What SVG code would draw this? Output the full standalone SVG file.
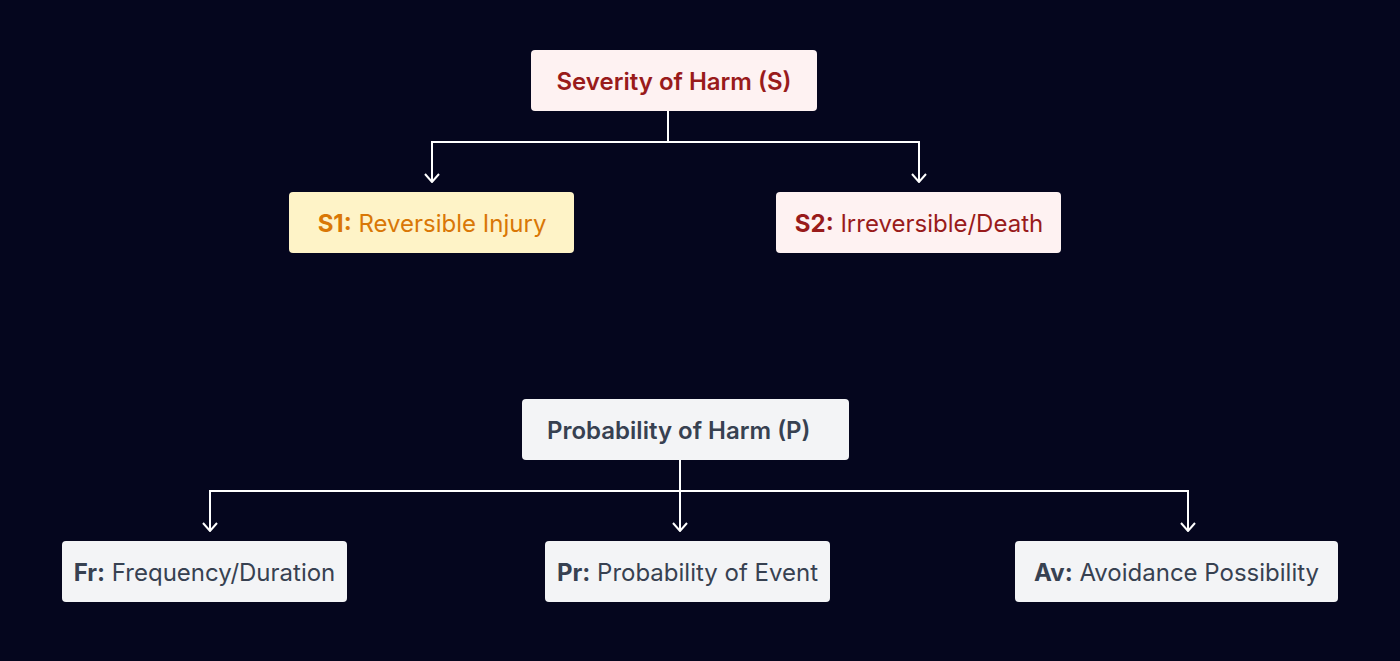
<svg xmlns="http://www.w3.org/2000/svg" width="1400" height="661" viewBox="0 0 1400 661">
<style>
.t{font-family:Inter,"Noto Sans","Liberation Sans",sans-serif;font-size:24px;dominant-baseline:central}
.b{font-weight:700}
.h{font-weight:600}
.red{fill:#991b1b}
.amb{fill:#d97706}
.gry{fill:#374151}
.conn{fill:none;stroke:#ffffff;stroke-width:2}
</style>
<defs>
<marker id="arr" viewBox="0 0 10 16" refX="9" refY="8" markerWidth="10" markerHeight="16" markerUnits="userSpaceOnUse" orient="auto">
<path d="M1,1 L9,8 L1,15" fill="none" stroke="#ffffff" stroke-width="2"/>
</marker>
</defs>
<rect width="1400" height="661" fill="#05061e"/>
<g id="connectors">
<path class="conn" d="M668,111 V142 H432 V182" marker-end="url(#arr)"/>
<path class="conn" d="M668,142 H919 V182" marker-end="url(#arr)"/>
<path class="conn" d="M680,460 V491 H210 V531" marker-end="url(#arr)"/>
<path class="conn" d="M680,491 V531" marker-end="url(#arr)"/>
<path class="conn" d="M680,491 H1188 V531" marker-end="url(#arr)"/>
</g>
<g id="severity">
<rect x="531" y="50" width="286" height="61" rx="4" fill="#fef2f2"/>
<text class="t h red" x="674" y="81" text-anchor="middle">Severity of Harm (S)</text>
</g>
<g id="s1">
<rect x="289" y="192" width="285" height="61" rx="4" fill="#fef3c7"/>
<text class="t amb" x="432" y="223" text-anchor="middle"><tspan class="b">S1:</tspan> Reversible Injury</text>
</g>
<g id="s2">
<rect x="776" y="192" width="285" height="61" rx="4" fill="#fef2f2"/>
<text class="t red" x="919" y="223" text-anchor="middle"><tspan class="b">S2:</tspan> Irreversible/Death</text>
</g>
<g id="probability">
<rect x="522" y="399" width="327" height="61" rx="4" fill="#f3f4f6"/>
<text class="t h gry" x="547" y="430">Probability of Harm (P)</text>
</g>
<g id="fr">
<rect x="62" y="541" width="285" height="61" rx="4" fill="#f3f4f6"/>
<text class="t gry" x="204.5" y="572" text-anchor="middle"><tspan class="b">Fr:</tspan> Frequency/Duration</text>
</g>
<g id="pr">
<rect x="545" y="541" width="285" height="61" rx="4" fill="#f3f4f6"/>
<text class="t gry" x="687.5" y="572" text-anchor="middle"><tspan class="b">Pr:</tspan> Probability of Event</text>
</g>
<g id="av">
<rect x="1015" y="541" width="323" height="61" rx="4" fill="#f3f4f6"/>
<text class="t gry" x="1176.5" y="572" text-anchor="middle"><tspan class="b">Av:</tspan> Avoidance Possibility</text>
</g>
</svg>
